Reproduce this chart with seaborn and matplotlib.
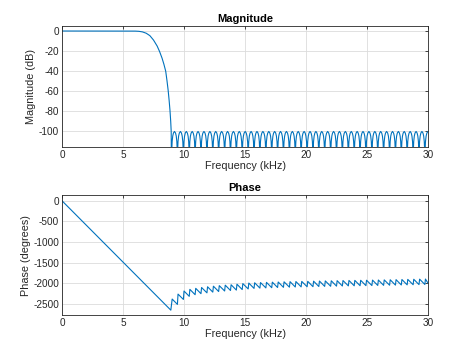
import matplotlib as mpl
mpl.use("Agg")
import pandas as pd
import matplotlib.pyplot as plt
import seaborn as sns

# passband + transition band of the magnitude response (kHz, dB)
pass_khz = [0, 5.5, 6.0, 6.3, 6.6, 6.9, 7.2, 7.5, 7.8, 8.0, 8.2, 8.35, 8.5,
            8.6, 8.7, 8.78, 8.85, 8.91, 8.95]
pass_db = [0, 0, -0.1, -0.3, -0.9, -2.2, -4.6, -9, -15, -20.5, -27, -33, -40,
           -49, -59, -69, -79, -90, -100]

# stopband nulls (kHz)
null_khz = [8.98, 9.46, 9.95, 10.43, 10.91, 11.39, 11.88, 12.36, 12.84, 13.33,
            13.81, 14.29, 14.77, 15.26, 15.74, 16.22, 16.71, 17.19, 17.67, 18.15,
            18.64, 19.12, 19.60, 20.09, 20.57, 21.05, 21.53, 22.02, 22.50, 22.98,
            23.47, 23.95, 24.43, 24.91, 25.40, 25.88, 26.36, 26.85, 27.33, 27.81,
            28.29, 28.78, 29.26, 29.74]
ripple_db = -100.0
# shape of one stopband lobe: position inside lobe, dB below ripple peak
lobe_frac = [0.0, 0.04, 0.1, 0.2, 0.32, 0.5, 0.68, 0.8, 0.9, 0.96]
lobe_rel_db = [-60, -18, -10, -4.6, -1.6, 0, -1.6, -4.6, -10, -18]

# phase: linear part, then sawtooth centre level of each stopband lobe
phase_lin_khz = [0, 8.92]
phase_lin_deg = [0, -2655]
phase_mid_deg = [-2450, -2330, -2255, -2215, -2190, -2170, -2152, -2138, -2125,
                 -2113, -2103, -2090, -2075, -2062, -2055, -2050, -2045, -2040,
                 -2036, -2032, -2028, -2025, -2022, -2020, -2016, -2013, -2010,
                 -2007, -2004, -2001, -1999, -1997, -1995, -1993, -1990, -1988,
                 -1985, -1982, -1979, -1976, -1973, -1970, -1967, -1965]
phase_swing_deg = 65
phase_end_deg = -2000

# build magnitude table
mag_f = list(pass_khz)
mag_y = list(pass_db)
edges = null_khz + [30.0]
for k in range(len(null_khz)):
    last = k == len(null_khz) - 1
    w = edges[k + 1] - edges[k]
    if last:
        w = 2 * w
    for fr, rel in zip(lobe_frac, lobe_rel_db):
        if last and fr > 0.5:
            break
        mag_f.append(null_khz[k] + fr * w)
        mag_y.append(ripple_db + rel)
mag = pd.DataFrame({"f": mag_f, "db": mag_y})

# build phase table
ph_f = list(phase_lin_khz)
ph_y = list(phase_lin_deg)
for k in range(len(null_khz)):
    ph_f.append(null_khz[k] + 0.05)
    ph_y.append(phase_mid_deg[k] + phase_swing_deg)
    if k < len(null_khz) - 1:
        ph_f.append(null_khz[k + 1])
        ph_y.append(phase_mid_deg[k] - phase_swing_deg)
ph_f.append(30.0)
ph_y.append(phase_end_deg)
phase = pd.DataFrame({"f": ph_f, "deg": ph_y})

sns.set_theme(style="white")
plt.rcParams["font.family"] = ["Liberation Sans", "DejaVu Sans"]
plt.rcParams["axes.unicode_minus"] = False

line_c = "#0072BD"
dark = "#262626"

fig = plt.figure(figsize=(4.74, 3.55), dpi=100)
ax1 = fig.add_axes([0.1308, 0.5859, 0.7722, 0.3409])
ax2 = fig.add_axes([0.1308, 0.1118, 0.7722, 0.3389])

sns.lineplot(data=mag, x="f", y="db", ax=ax1, color=line_c, linewidth=0.8,
             sort=False, estimator=None)
sns.lineplot(data=phase, x="f", y="deg", ax=ax2, color=line_c, linewidth=0.8,
             sort=False, estimator=None)

ax1.set_ylim(-115.5, 5)
ax1.set_yticks([0, -20, -40, -60, -80, -100])
ax1.set_title("Magnitude", fontsize=8, fontweight="bold", color="black", pad=3)
ax1.set_ylabel("Magnitude (dB)", fontsize=7.8, color=dark, labelpad=2)

ax2.set_ylim(-2780, 140)
ax2.set_yticks([0, -500, -1000, -1500, -2000, -2500])
ax2.set_title("Phase", fontsize=8, fontweight="bold", color="black", pad=3)
ax2.set_ylabel("Phase (degrees)", fontsize=7.8, color=dark, labelpad=2)

for ax in (ax1, ax2):
    ax.set_xlim(0, 30)
    ax.set_xticks([0, 5, 10, 15, 20, 25, 30])
    ax.set_xlabel("Frequency (kHz)", fontsize=7.8, color=dark, labelpad=1)
    ax.grid(True, color="#DCDCDC", linewidth=0.6)
    ax.set_axisbelow(True)
    ax.tick_params(direction="in", length=2.5, width=0.6, labelsize=7.2,
                   colors=dark, top=True, right=True, pad=2)
    for s in ax.spines.values():
        s.set_color(dark)
        s.set_linewidth(0.6)

fig.savefig("out.png", dpi=100)
plt.close(fig)
